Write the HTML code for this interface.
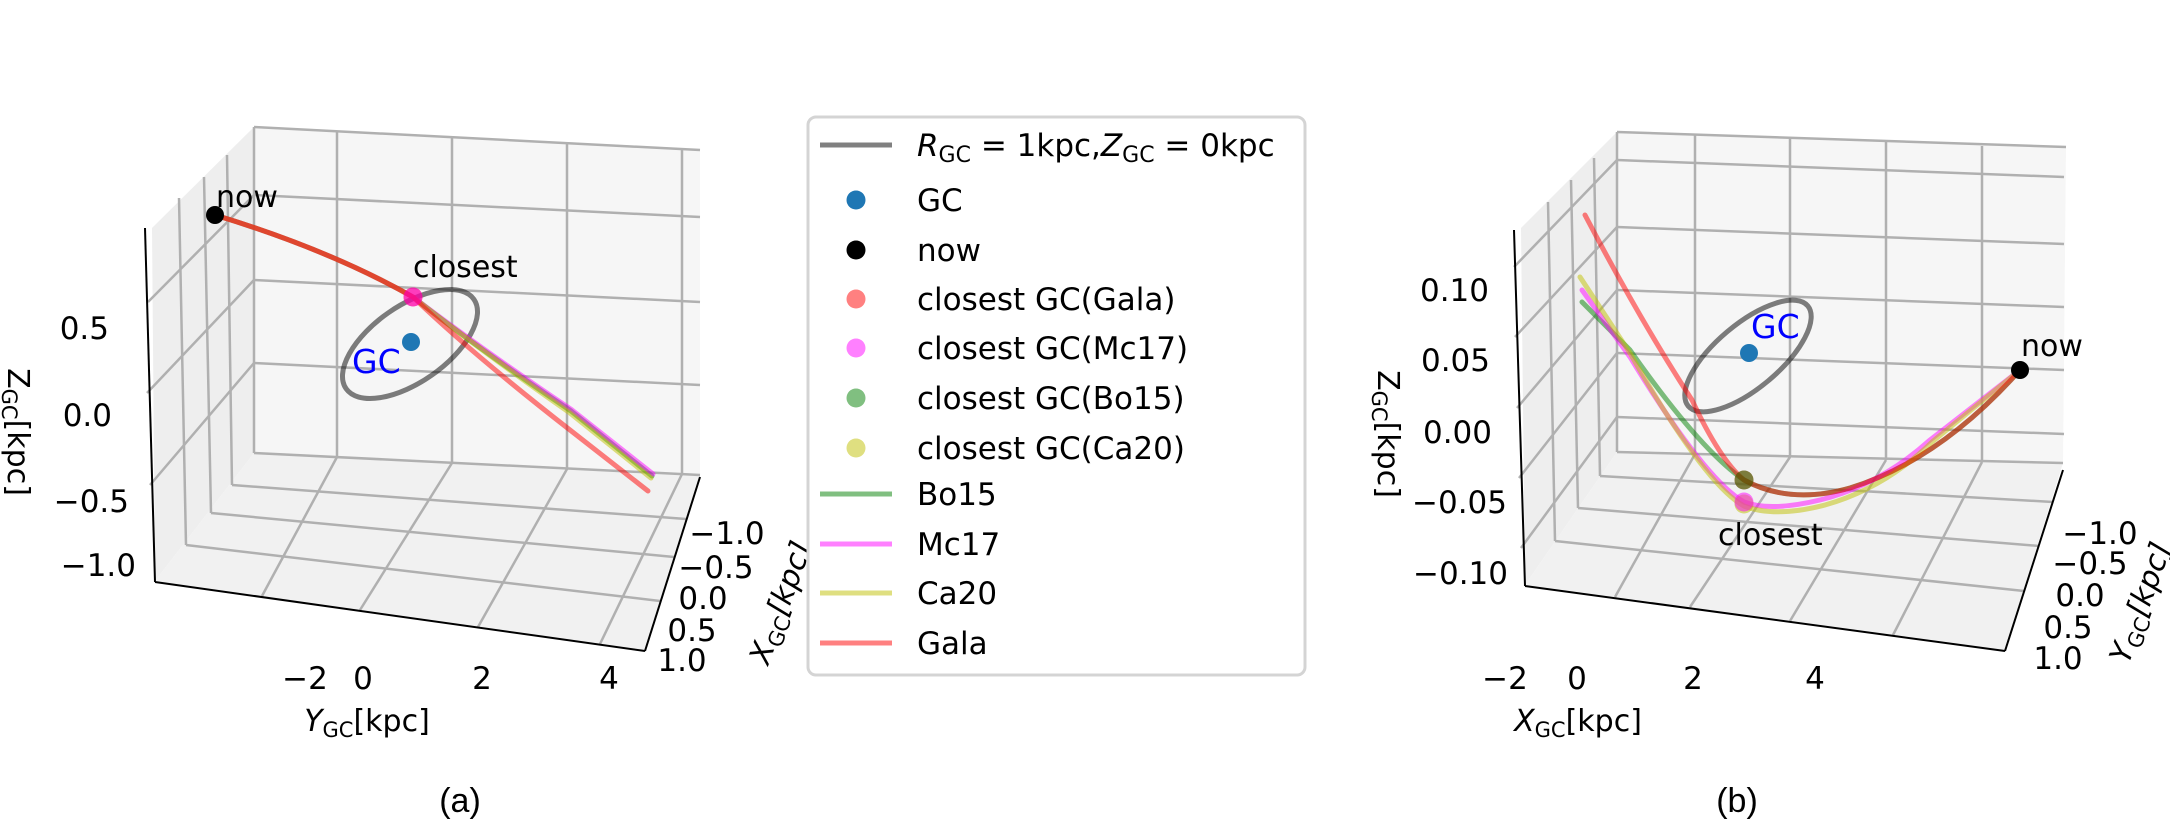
<!DOCTYPE html>
<html><head><meta charset="utf-8"><style>
html,body{margin:0;padding:0;background:#fff;}
svg{display:block;font-family:"DejaVu Sans","Liberation Sans",sans-serif;}
</style></head><body>
<svg width="2170" height="832" viewBox="0 0 2170 832" xmlns="http://www.w3.org/2000/svg">
<rect width="2170" height="832" fill="#fff"/>

<!-- ================= PANEL A ================= -->
<g>
<polygon points="152,228 254,127 254,453 155,581" fill="#eeeeee"/>
<polygon points="254,127 700,150 700,475 254,453" fill="#f6f6f6"/>
<polygon points="254,453 700,475 645,650 155,581" fill="#f1f1f1"/>
<g stroke="#b0b0b0" stroke-width="2.5" fill="none">
<line x1="337" y1="131" x2="337" y2="457"/><line x1="452" y1="137" x2="452" y2="463"/>
<line x1="567" y1="142" x2="567" y2="469"/><line x1="682" y1="148" x2="682" y2="474"/>
<line x1="254" y1="195" x2="700" y2="217"/><line x1="254" y1="280" x2="700" y2="302"/>
<line x1="254" y1="363" x2="700" y2="385"/>
<line x1="148" y1="302" x2="254" y2="195"/><line x1="147" y1="393" x2="254" y2="280"/>
<line x1="150" y1="485" x2="254" y2="363"/>
<line x1="179" y1="198" x2="186" y2="545"/><line x1="204" y1="177" x2="211" y2="513"/>
<line x1="227" y1="155" x2="232" y2="485"/>
<line x1="232" y1="485" x2="686" y2="519"/><line x1="211" y1="513" x2="674" y2="557"/>
<line x1="186" y1="545" x2="660" y2="601"/>
<line x1="337" y1="457" x2="262" y2="596"/><line x1="452" y1="463" x2="360" y2="610"/>
<line x1="567" y1="469" x2="478" y2="627"/><line x1="682" y1="474" x2="600" y2="644"/>
<line x1="254" y1="127" x2="254" y2="453"/><line x1="254" y1="127" x2="700" y2="150"/>
<line x1="254" y1="453" x2="700" y2="475"/>
</g>
<g stroke="#000" stroke-width="2" fill="none">
<line x1="145" y1="228" x2="155" y2="582"/>
<line x1="155" y1="582" x2="645" y2="651"/>
<line x1="700" y1="477" x2="645" y2="651"/>
</g>
<ellipse cx="410" cy="344" rx="78" ry="38" transform="rotate(-35 410 344)" fill="none" stroke="#000" stroke-opacity="0.5" stroke-width="5"/>
<g fill="none" stroke-width="5" stroke-opacity="0.5" stroke-linecap="round">
<path d="M215,215 Q330,250 413,297 Q480,350 571,411 L652,476" stroke="#008000"/>
<path d="M215,215 Q330,250 413,297 Q480,348 572,410 L653,474" stroke="#ff00ff"/>
<path d="M215,215 Q330,250 413,297 Q480,350 570,413 L651,478" stroke="#bfbf00"/>
<path d="M215,215 Q330,250 413,297 Q470,352 570,430 L648,491" stroke="#ff0000"/>
</g>
<circle cx="411" cy="342" r="9" fill="#1f77b4"/>
<circle cx="215" cy="215" r="9" fill="#000"/>
<circle cx="413" cy="297" r="9.5" fill="#ff0000" fill-opacity="0.5"/>
<circle cx="413" cy="297" r="9.5" fill="#ff00ff" fill-opacity="0.5"/>
<text x="216" y="207" font-size="30">now</text>
<text x="413" y="277" font-size="30">closest</text>
<text x="352" y="373" font-size="33" fill="#0000ff">GC</text>
<g font-size="31" text-anchor="end">
<text x="109" y="339">0.5</text><text x="112" y="426">0.0</text>
<text x="129" y="512">−0.5</text><text x="136" y="576">−1.0</text>
</g>
<text transform="translate(8,432) rotate(90)" font-size="30" text-anchor="middle">Z<tspan font-size="21" dy="6">GC</tspan><tspan dy="-6">[kpc]</tspan></text>
<g font-size="31" text-anchor="middle">
<text x="305" y="689">−2</text><text x="363" y="689">0</text>
<text x="482" y="689">2</text><text x="609" y="689">4</text>
</g>
<text x="367" y="731" font-size="30" text-anchor="middle"><tspan font-style="italic">Y</tspan><tspan font-size="21" dy="6">GC</tspan><tspan dy="-6">[kpc]</tspan></text>
<g font-size="31" text-anchor="middle">
<text x="727" y="544">−1.0</text><text x="716" y="578">−0.5</text>
<text x="703" y="609">0.0</text><text x="692" y="641">0.5</text><text x="682" y="671">1.0</text>
</g>
<text transform="translate(790,606) rotate(-70)" font-size="30" text-anchor="middle"><tspan font-style="italic">X</tspan><tspan font-size="21" dy="6">GC</tspan><tspan dy="-6" font-style="italic">[kpc]</tspan></text>
</g>

<!-- ================= LEGEND ================= -->
<rect x="808" y="117" width="497" height="558" rx="8" fill="#fff" stroke="#d4d4d4" stroke-width="3"/>
<g stroke-width="5">
<line x1="820" y1="145" x2="892" y2="145" stroke="#808080"/>
<line x1="820" y1="494" x2="892" y2="494" stroke="#80bf80"/>
<line x1="820" y1="544" x2="892" y2="544" stroke="#ff80ff"/>
<line x1="820" y1="593" x2="892" y2="593" stroke="#dfdf80"/>
<line x1="820" y1="643" x2="892" y2="643" stroke="#ff8080"/>
</g>
<circle cx="856" cy="200" r="9.5" fill="#1f77b4"/>
<circle cx="856" cy="250" r="9.5" fill="#000"/>
<circle cx="856" cy="299" r="9.5" fill="#ff8080"/>
<circle cx="856" cy="348" r="9.5" fill="#ff80ff"/>
<circle cx="856" cy="398" r="9.5" fill="#80bf80"/>
<circle cx="856" cy="448" r="9.5" fill="#dfdf80"/>
<g font-size="31">
<text x="917" y="156"><tspan font-style="italic">R</tspan><tspan font-size="22" dy="6">GC</tspan><tspan dy="-6"> = 1kpc,</tspan><tspan font-style="italic">Z</tspan><tspan font-size="22" dy="6">GC</tspan><tspan dy="-6"> = 0kpc</tspan></text>
<text x="917" y="211">GC</text>
<text x="917" y="261">now</text>
<text x="917" y="310">closest GC(Gala)</text>
<text x="917" y="359">closest GC(Mc17)</text>
<text x="917" y="409">closest GC(Bo15)</text>
<text x="917" y="459">closest GC(Ca20)</text>
<text x="917" y="505">Bo15</text>
<text x="917" y="555">Mc17</text>
<text x="917" y="604">Ca20</text>
<text x="917" y="654">Gala</text>
</g>

<!-- ================= PANEL B ================= -->
<g>
<polygon points="1521,228 1617,132 1617,452 1525,585" fill="#eeeeee"/>
<polygon points="1617,132 2066,147 2063,463 1617,452" fill="#f6f6f6"/>
<polygon points="1617,452 2063,463 2005,650 1525,585" fill="#f1f1f1"/>
<g stroke="#b0b0b0" stroke-width="2.5" fill="none">
<line x1="1695" y1="135" x2="1695" y2="454"/><line x1="1790" y1="138" x2="1790" y2="457"/>
<line x1="1886" y1="142" x2="1886" y2="460"/><line x1="1982" y1="146" x2="1982" y2="462"/>
<line x1="1617" y1="160" x2="2064" y2="177"/><line x1="1617" y1="227" x2="2064" y2="244"/>
<line x1="1617" y1="290" x2="2064" y2="307"/><line x1="1617" y1="353" x2="2064" y2="370"/>
<line x1="1617" y1="417" x2="2064" y2="434"/>
<line x1="1514" y1="267" x2="1617" y2="160"/><line x1="1515" y1="337" x2="1617" y2="227"/>
<line x1="1517" y1="408" x2="1617" y2="290"/><line x1="1519" y1="478" x2="1617" y2="353"/>
<line x1="1521" y1="548" x2="1617" y2="417"/>
<line x1="1548" y1="202" x2="1555" y2="541"/><line x1="1571" y1="180" x2="1578" y2="508"/>
<line x1="1594" y1="158" x2="1600" y2="476"/>
<line x1="1600" y1="476" x2="2053" y2="502"/><line x1="1578" y1="508" x2="2039" y2="546"/>
<line x1="1555" y1="541" x2="2024" y2="591"/>
<line x1="1695" y1="454" x2="1615" y2="597"/><line x1="1790" y1="457" x2="1690" y2="607"/>
<line x1="1886" y1="460" x2="1790" y2="621"/><line x1="1982" y1="462" x2="1893" y2="635"/>
<line x1="1617" y1="132" x2="1617" y2="452"/><line x1="1617" y1="132" x2="2066" y2="147"/>
<line x1="1617" y1="452" x2="2063" y2="463"/>
</g>
<g stroke="#000" stroke-width="2" fill="none">
<line x1="1514" y1="230" x2="1525" y2="586"/>
<line x1="1525" y1="586" x2="2005" y2="651"/>
<line x1="2063" y1="470" x2="2005" y2="651"/>
</g>
<ellipse cx="1748" cy="356" rx="78" ry="32" transform="rotate(-40 1748 356)" fill="none" stroke="#000" stroke-opacity="0.5" stroke-width="5"/>
<g fill="none" stroke-width="5" stroke-opacity="0.5" stroke-linecap="round">
<path d="M1582,302 L1630,350 Q1700,450 1744,480 Q1790,505 1850,488 Q1940,460 2020,370" stroke="#008000"/>
<path d="M1582,290 L1630,357 Q1705,480 1744,502 Q1770,512 1820,500 Q1880,485 1930,440 L2020,370" stroke="#ff00ff"/>
<path d="M1580,277 L1630,353 Q1705,485 1744,506 Q1775,518 1825,505 Q1885,488 1932,442 L2020,370" stroke="#bfbf00"/>
<path d="M1585,215 Q1640,320 1692,400 Q1720,460 1744,480 Q1790,505 1850,488 Q1940,460 2020,370" stroke="#ff0000"/>
</g>
<circle cx="1749" cy="353" r="9" fill="#1f77b4"/>
<circle cx="2020" cy="370" r="9" fill="#000"/>
<circle cx="1744" cy="480" r="9.5" fill="#ff0000" fill-opacity="0.5"/>
<circle cx="1744" cy="480" r="9.5" fill="#008000" fill-opacity="0.5"/>
<circle cx="1744" cy="504" r="9.5" fill="#bfbf00" fill-opacity="0.5"/>
<circle cx="1744" cy="502" r="9.5" fill="#ff00ff" fill-opacity="0.5"/>
<text x="2021" y="356" font-size="30">now</text>
<text x="1718" y="545" font-size="30">closest</text>
<text x="1751" y="338" font-size="33" fill="#0000ff">GC</text>
<g font-size="31" text-anchor="end">
<text x="1489" y="301">0.10</text><text x="1490" y="371">0.05</text>
<text x="1492" y="443">0.00</text><text x="1507" y="513">−0.05</text>
<text x="1508" y="584">−0.10</text>
</g>
<text transform="translate(1378,434) rotate(90)" font-size="30" text-anchor="middle">Z<tspan font-size="21" dy="6">GC</tspan><tspan dy="-6">[kpc]</tspan></text>
<g font-size="31" text-anchor="middle">
<text x="1505" y="689">−2</text><text x="1577" y="689">0</text>
<text x="1693" y="689">2</text><text x="1815" y="689">4</text>
</g>
<text x="1578" y="731" font-size="30" text-anchor="middle"><tspan font-style="italic">X</tspan><tspan font-size="21" dy="6">GC</tspan><tspan dy="-6">[kpc]</tspan></text>
<g font-size="31" text-anchor="middle">
<text x="2100" y="544">−1.0</text><text x="2090" y="574">−0.5</text>
<text x="2080" y="606">0.0</text><text x="2068" y="638">0.5</text><text x="2058" y="669">1.0</text>
</g>
<text transform="translate(2150,606) rotate(-70)" font-size="30" text-anchor="middle"><tspan font-style="italic">Y</tspan><tspan font-size="21" dy="6">GC</tspan><tspan dy="-6" font-style="italic">[kpc]</tspan></text>
</g>

<text x="460" y="812" font-size="34" text-anchor="middle" font-family="Liberation Sans, sans-serif">(a)</text>
<text x="1737" y="812" font-size="34" text-anchor="middle" font-family="Liberation Sans, sans-serif">(b)</text>
</svg>
</body></html>
